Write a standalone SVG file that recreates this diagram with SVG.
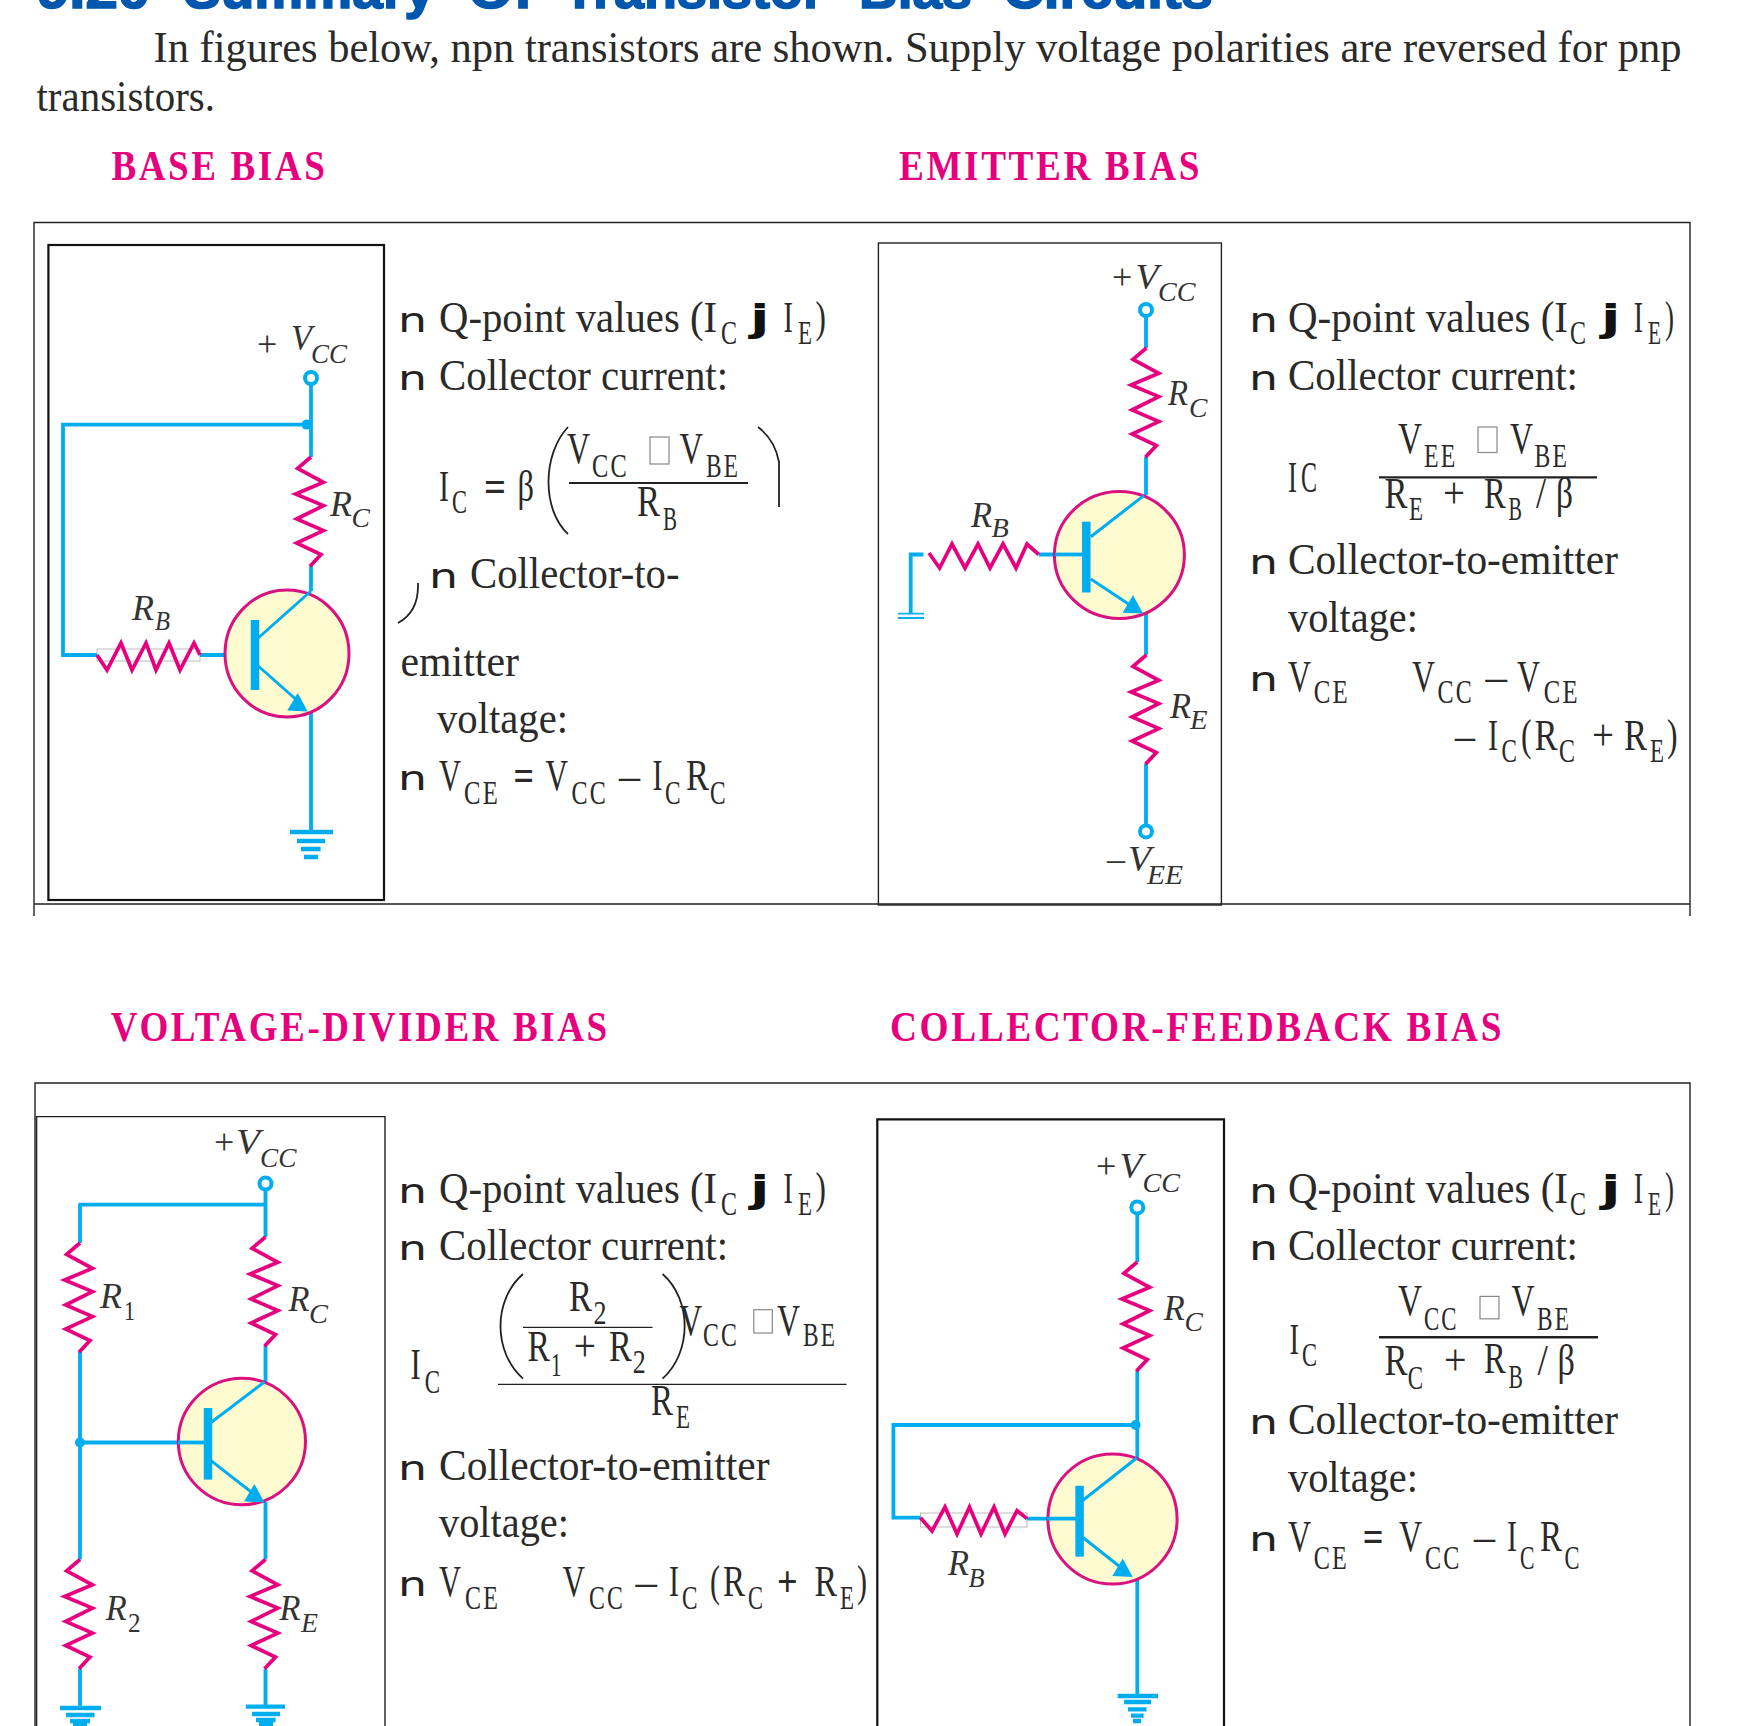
<svg xmlns="http://www.w3.org/2000/svg" width="1764" height="1726" viewBox="0 0 1764 1726">
<style>
text{font-family:"Liberation Serif",serif;fill:#2a2a2a}
.h{font-size:43px;font-weight:bold;fill:#e6007e;letter-spacing:3px}
.ti{font-family:"Liberation Sans",sans-serif;font-size:54px;font-weight:bold;fill:#0057ad;stroke:#0057ad;stroke-width:1.6}
.t{font-size:45px}
.eq{font-size:45px;font-weight:bold}
.s{font-size:33px}
.ss{font-size:33px;letter-spacing:3px}
.n{font-family:"DejaVu Sans",sans-serif;font-size:33px;fill:#222}
.j{font-family:"DejaVu Sans",sans-serif;font-size:38px;font-weight:bold;fill:#111}
.l{font-size:36px;font-style:italic;fill:#333}
.ls{font-size:28px;font-style:italic;fill:#333}
.ln{font-size:28px;fill:#333}
.w{fill:none;stroke:#00aeef;stroke-width:3.8}
.wi{fill:none;stroke:#00aeef;stroke-width:3}
.wb{fill:none;stroke:#00aeef;stroke-width:8.5}
.g{fill:none;stroke:#00aeef;stroke-width:4.4}
.r{fill:none;stroke:#e6007e;stroke-width:3.7}
.q{fill:#fefbd0;stroke:#d9127f;stroke-width:3}
.a{fill:#00aeef}
.v{fill:#fff;stroke:#00aeef;stroke-width:4}
.box{fill:none;stroke:#222;stroke-width:1.4}
.boxb{fill:none;stroke:#111;stroke-width:2.2}
.m{fill:none;stroke:#222;stroke-width:1.8}
.m2{fill:none;stroke:#222;stroke-width:2.4}
.u{fill:#fff;stroke:#888;stroke-width:1.2}
.f{fill:none;stroke:#bbb;stroke-width:1}
</style>
<defs>
<path id="rz" d="M0 0l-13.4 11.3 25.8 14-27.8 11.7 27.8 11.6-26.8 13.4 26.8 11.6-26.8 12.4 24.4 11.6-11 11.7"/>
</defs>

<g id="title">
<text class="ti" x="37" y="8" textLength="113" lengthAdjust="spacingAndGlyphs">9.20</text>
<text class="ti" x="184" y="8" textLength="251" lengthAdjust="spacingAndGlyphs">Summary</text>
<text class="ti" x="468" y="8" textLength="65" lengthAdjust="spacingAndGlyphs">Of</text>
<text class="ti" x="563" y="8" textLength="261" lengthAdjust="spacingAndGlyphs">Transistor</text>
<text class="ti" x="859" y="8" textLength="113" lengthAdjust="spacingAndGlyphs">Bias</text>
<text class="ti" x="1003" y="8" textLength="210" lengthAdjust="spacingAndGlyphs">Circuits</text>
<text class="t" x="153.5" y="62" textLength="1528" lengthAdjust="spacingAndGlyphs">In figures below, npn transistors are shown. Supply voltage polarities are reversed for pnp</text>
<text class="t" x="36.5" y="111" textLength="178.5" lengthAdjust="spacingAndGlyphs">transistors.</text>
</g>

<g id="frames">
<path class="box" d="M34 916V222.5H1690V916M34 904H1690"/>
<path class="box" d="M35 1726V1083H1690V1726"/>
</g>

<g id="base-bias">
<text class="h" x="111.4" y="180" textLength="216" lengthAdjust="spacingAndGlyphs">BASE BIAS</text>
<rect class="boxb" x="48.4" y="245" width="335.6" height="655"/>
<rect class="f" x="97" y="649" width="103" height="12"/>
<g class="connectors">
<path class="w" d="M311 384V457M311 424.6H63V655H97M200 655H255M311 566V591M311 712V832"/>
<use class="r" href="#rz" x="311" y="457"/>
<path class="r" d="M97 655L107 670 121 643 132 670 146 643 156 670 169 643 180 670 194 643 200 655"/>
</g>
<circle class="a" cx="306.6" cy="424.6" r="5"/>
<circle class="v" cx="311" cy="378" r="6"/>
<ellipse class="q" cx="287" cy="653.5" rx="62" ry="63.5"/>
<path class="wi" d="M256 640L311 591M256 664L300 703"/>
<path class="wb" d="M255 620V690"/>
<path class="a" d="M307.7 711.6L287.3 710.6 297.7 693Z"/>
<path class="g" d="M290 832H333M297 841H325M301 849H320.6M304 857H318"/>
<text class="l" x="257" y="356" style="font-style:normal">+</text>
<text class="l" x="291" y="350" textLength="21" lengthAdjust="spacingAndGlyphs">V</text>
<text class="ls" x="311" y="363" textLength="36" lengthAdjust="spacingAndGlyphs">CC</text>
<text class="l" x="330" y="516" textLength="22" lengthAdjust="spacingAndGlyphs">R</text>
<text class="ls" x="351.6" y="526.6" textLength="18.4" lengthAdjust="spacingAndGlyphs">C</text>
<text class="l" x="132" y="620" textLength="22" lengthAdjust="spacingAndGlyphs">R</text>
<text class="ls" x="155" y="630" textLength="15" lengthAdjust="spacingAndGlyphs">B</text>

<text class="n" x="398" y="332" textLength="29" lengthAdjust="spacingAndGlyphs">n</text>
<text class="t" x="439" y="332" textLength="278" lengthAdjust="spacingAndGlyphs">Q-point values (I</text>
<text class="s" x="721" y="344" textLength="16" lengthAdjust="spacingAndGlyphs">C</text>
<text class="j" x="750" y="331" textLength="19.5" lengthAdjust="spacingAndGlyphs">j</text>
<text class="t" x="783.6" y="332" textLength="9.4" lengthAdjust="spacingAndGlyphs">I</text>
<text class="s" x="798" y="344" textLength="14" lengthAdjust="spacingAndGlyphs">E</text>
<text class="t" x="815.6" y="332" textLength="10.4" lengthAdjust="spacingAndGlyphs">)</text>
<text class="n" x="398" y="390" textLength="29" lengthAdjust="spacingAndGlyphs">n</text>
<text class="t" x="439" y="390" textLength="289" lengthAdjust="spacingAndGlyphs">Collector current:</text>

<text class="t" x="439" y="501" textLength="10" lengthAdjust="spacingAndGlyphs">I</text>
<text class="s" x="452" y="513" textLength="15" lengthAdjust="spacingAndGlyphs">C</text>
<text class="eq" x="484" y="501" textLength="22" lengthAdjust="spacingAndGlyphs">=</text>
<text class="t" x="517.5" y="501" textLength="16.5" lengthAdjust="spacingAndGlyphs">β</text>
<path class="m" d="M568 427C542 455 542 510 568 534M758 427Q775 440 779 462V507M418 583Q419 612 398 623"/>
<text class="t" x="567" y="462.5" textLength="23" lengthAdjust="spacingAndGlyphs">V</text>
<text class="ss" x="592" y="477" textLength="37" lengthAdjust="spacingAndGlyphs">CC</text>
<rect class="u" x="650" y="437" width="19" height="27"/>
<text class="t" x="679.5" y="462.5" textLength="23.5" lengthAdjust="spacingAndGlyphs">V</text>
<text class="ss" x="706" y="477" textLength="34" lengthAdjust="spacingAndGlyphs">BE</text>
<path class="m" d="M569 483H748"/>
<text class="t" x="637" y="516" textLength="23" lengthAdjust="spacingAndGlyphs">R</text>
<text class="s" x="663" y="529.5" textLength="14" lengthAdjust="spacingAndGlyphs">B</text>

<text class="n" x="429" y="588" textLength="29" lengthAdjust="spacingAndGlyphs">n</text>
<text class="t" x="470" y="588" textLength="209.5" lengthAdjust="spacingAndGlyphs">Collector-to-</text>
<text class="t" x="400.5" y="676" textLength="118.5" lengthAdjust="spacingAndGlyphs">emitter</text>
<text class="t" x="437" y="733" textLength="131" lengthAdjust="spacingAndGlyphs">voltage:</text>

<text class="n" x="398" y="790" textLength="29" lengthAdjust="spacingAndGlyphs">n</text>
<text class="t" x="439" y="790" textLength="22" lengthAdjust="spacingAndGlyphs">V</text>
<text class="ss" x="464" y="803.5" textLength="36" lengthAdjust="spacingAndGlyphs">CE</text>
<text class="eq" x="513.5" y="790" textLength="20.5" lengthAdjust="spacingAndGlyphs">=</text>
<text class="t" x="545.6" y="790" textLength="22.4" lengthAdjust="spacingAndGlyphs">V</text>
<text class="ss" x="571.5" y="803.5" textLength="36.5" lengthAdjust="spacingAndGlyphs">CC</text>
<text class="t" x="619" y="790" textLength="21" lengthAdjust="spacingAndGlyphs">–</text>
<text class="t" x="652.5" y="790" textLength="10" lengthAdjust="spacingAndGlyphs">I</text>
<text class="s" x="665" y="803.5" textLength="15.6" lengthAdjust="spacingAndGlyphs">C</text>
<text class="t" x="686" y="790" textLength="23" lengthAdjust="spacingAndGlyphs">R</text>
<text class="s" x="710" y="803.5" textLength="15.6" lengthAdjust="spacingAndGlyphs">C</text>
</g>

<g id="emitter-bias">
<text class="h" x="899" y="180" textLength="303" lengthAdjust="spacingAndGlyphs">EMITTER BIAS</text>
<rect class="box" x="878.4" y="243" width="343" height="662"/>
<g class="connectors">
<path class="w" d="M1146 316V348M1146 457V495M1146 614V655M1146 764V825M1038.7 554.5H1086M923.4 554.5H910.7V614"/>
<path class="wi" d="M898 613.7H924M898 618H924" style="stroke-width:1.8"/>
<use class="r" href="#rz" x="1146.4" y="348"/>
<use class="r" href="#rz" x="1146.4" y="655"/>
<path class="r" d="M929 553L939.6 568 952 544 965 568 978 544 990 568 1003 544 1016 568 1027 544 1038.7 554.5"/>
</g>
<circle class="v" cx="1146" cy="310" r="6"/>
<circle class="v" cx="1146" cy="831.4" r="6"/>
<ellipse class="q" cx="1119.4" cy="555" rx="65" ry="63.5"/>
<path class="wi" d="M1090.8 536.7L1143.8 495.6M1090.8 579L1133 607"/>
<path class="w" d="M1055 554.5H1086"/>
<path class="wb" d="M1086.3 521.7V592.5"/>
<path class="a" d="M1143 613.5L1122.6 612.7 1133 595Z"/>
<text class="l" x="1112" y="289" style="font-style:normal">+</text>
<text class="l" x="1135.6" y="289" textLength="23" lengthAdjust="spacingAndGlyphs">V</text>
<text class="ls" x="1158" y="300.6" textLength="37.5" lengthAdjust="spacingAndGlyphs">CC</text>
<text class="l" x="1168" y="405" textLength="20" lengthAdjust="spacingAndGlyphs">R</text>
<text class="ls" x="1189" y="417" textLength="18.4" lengthAdjust="spacingAndGlyphs">C</text>
<text class="l" x="1170" y="717.5" textLength="21" lengthAdjust="spacingAndGlyphs">R</text>
<text class="ls" x="1190" y="729" textLength="17.6" lengthAdjust="spacingAndGlyphs">E</text>
<text class="l" x="971" y="526.6" textLength="21" lengthAdjust="spacingAndGlyphs">R</text>
<text class="ls" x="991.4" y="536.7" textLength="17.3" lengthAdjust="spacingAndGlyphs">B</text>
<text class="l" x="1107" y="870.5" textLength="18" lengthAdjust="spacingAndGlyphs" style="font-style:normal">–</text>
<text class="l" x="1128" y="870.5" textLength="23" lengthAdjust="spacingAndGlyphs">V</text>
<text class="ls" x="1147" y="883.5" textLength="36" lengthAdjust="spacingAndGlyphs">EE</text>

<text class="n" x="1249" y="332" textLength="29" lengthAdjust="spacingAndGlyphs">n</text>
<text class="t" x="1288" y="332" textLength="280" lengthAdjust="spacingAndGlyphs">Q-point values (I</text>
<text class="s" x="1570" y="344" textLength="16" lengthAdjust="spacingAndGlyphs">C</text>
<text class="j" x="1601" y="331" textLength="19.5" lengthAdjust="spacingAndGlyphs">j</text>
<text class="t" x="1633.7" y="332" textLength="9.3" lengthAdjust="spacingAndGlyphs">I</text>
<text class="s" x="1648" y="344" textLength="13" lengthAdjust="spacingAndGlyphs">E</text>
<text class="t" x="1665" y="332" textLength="9" lengthAdjust="spacingAndGlyphs">)</text>
<text class="n" x="1249" y="390" textLength="29" lengthAdjust="spacingAndGlyphs">n</text>
<text class="t" x="1288" y="390" textLength="290" lengthAdjust="spacingAndGlyphs">Collector current:</text>

<text class="t" x="1288" y="492" textLength="9" lengthAdjust="spacingAndGlyphs">I</text>
<text class="t" x="1301" y="492" textLength="16" lengthAdjust="spacingAndGlyphs">C</text>
<text class="t" x="1398" y="452.5" textLength="24" lengthAdjust="spacingAndGlyphs">V</text>
<text class="ss" x="1424" y="466.7" textLength="33.5" lengthAdjust="spacingAndGlyphs">EE</text>
<rect class="u" x="1478" y="427" width="19" height="25.5"/>
<text class="t" x="1510" y="452.5" textLength="23" lengthAdjust="spacingAndGlyphs">V</text>
<text class="ss" x="1534.5" y="466.7" textLength="34.5" lengthAdjust="spacingAndGlyphs">BE</text>
<path class="m2" d="M1379 477.4H1597"/>
<text class="t" x="1384.6" y="508" textLength="23" lengthAdjust="spacingAndGlyphs">R</text>
<text class="s" x="1409" y="520" textLength="14" lengthAdjust="spacingAndGlyphs">E</text>
<text class="t" x="1443" y="508" textLength="22" lengthAdjust="spacingAndGlyphs">+</text>
<text class="t" x="1484" y="508" textLength="21.7" lengthAdjust="spacingAndGlyphs">R</text>
<text class="s" x="1508.6" y="520" textLength="13.4" lengthAdjust="spacingAndGlyphs">B</text>
<text class="t" x="1536" y="508" textLength="10" lengthAdjust="spacingAndGlyphs">/</text>
<text class="t" x="1556" y="508" textLength="17" lengthAdjust="spacingAndGlyphs">β</text>

<text class="n" x="1249" y="574" textLength="29" lengthAdjust="spacingAndGlyphs">n</text>
<text class="t" x="1288" y="574" textLength="330" lengthAdjust="spacingAndGlyphs">Collector-to-emitter</text>
<text class="t" x="1288" y="632" textLength="130" lengthAdjust="spacingAndGlyphs">voltage:</text>
<text class="n" x="1249" y="691" textLength="29" lengthAdjust="spacingAndGlyphs">n</text>
<text class="t" x="1288" y="691" textLength="23" lengthAdjust="spacingAndGlyphs">V</text>
<text class="ss" x="1313.7" y="703" textLength="36.3" lengthAdjust="spacingAndGlyphs">CE</text>
<text class="t" x="1412" y="691" textLength="23" lengthAdjust="spacingAndGlyphs">V</text>
<text class="ss" x="1437.6" y="703" textLength="36.4" lengthAdjust="spacingAndGlyphs">CC</text>
<text class="t" x="1485.5" y="691" textLength="21.5" lengthAdjust="spacingAndGlyphs">–</text>
<text class="t" x="1517" y="691" textLength="23" lengthAdjust="spacingAndGlyphs">V</text>
<text class="ss" x="1543.7" y="703" textLength="36" lengthAdjust="spacingAndGlyphs">CE</text>
<text class="t" x="1455" y="750" textLength="20" lengthAdjust="spacingAndGlyphs">–</text>
<text class="t" x="1488" y="750" textLength="10" lengthAdjust="spacingAndGlyphs">I</text>
<text class="s" x="1501.6" y="762" textLength="15.4" lengthAdjust="spacingAndGlyphs">C</text>
<text class="t" x="1521" y="750" textLength="10.6" lengthAdjust="spacingAndGlyphs">(</text>
<text class="t" x="1534.5" y="750" textLength="23" lengthAdjust="spacingAndGlyphs">R</text>
<text class="s" x="1559" y="762" textLength="16" lengthAdjust="spacingAndGlyphs">C</text>
<text class="t" x="1592" y="750" textLength="22" lengthAdjust="spacingAndGlyphs">+</text>
<text class="t" x="1624" y="750" textLength="23" lengthAdjust="spacingAndGlyphs">R</text>
<text class="s" x="1650" y="762" textLength="14" lengthAdjust="spacingAndGlyphs">E</text>
<text class="t" x="1667" y="750" textLength="10.5" lengthAdjust="spacingAndGlyphs">)</text>
</g>

<g id="voltage-divider-bias">
<text class="h" x="110.8" y="1041" textLength="499" lengthAdjust="spacingAndGlyphs">VOLTAGE-DIVIDER BIAS</text>
<path class="box" d="M36.6 1726V1116.6H385V1726"/>
<g class="connectors">
<path class="w" d="M265.5 1189V1237M78.5 1204.6H265.5M80 1204.6V1243M80 1352V1559.5M80 1442.5H208M265.5 1346V1382M265.5 1502V1559.5M80 1669V1708M265.5 1669V1706"/>
<use class="r" href="#rz" x="80" y="1243"/>
<use class="r" href="#rz" x="80" y="1559.5"/>
<use class="r" href="#rz" x="265.5" y="1237"/>
<use class="r" href="#rz" x="265.5" y="1559.5"/>
</g>
<circle class="a" cx="80" cy="1442.5" r="5"/>
<circle class="v" cx="265.5" cy="1183.6" r="6"/>
<ellipse class="q" cx="241.9" cy="1441.5" rx="63.6" ry="63.3"/>
<path class="wi" d="M211 1422.5L264.4 1382M211 1460.6L255 1495"/>
<path class="w" d="M178 1442.5H208"/>
<path class="wb" d="M208 1408V1479.6"/>
<path class="a" d="M264.4 1502.4L244 1501.4 254.4 1484Z"/>
<path class="g" d="M60 1708H101M66 1715H94.5M70 1721H90M73 1725H87M245.8 1706.6H285M252 1714H280M256 1720H275.6M259 1724H273"/>
<text class="l" x="214" y="1153.7" style="font-style:normal">+</text>
<text class="l" x="236" y="1153.7" textLength="24" lengthAdjust="spacingAndGlyphs">V</text>
<text class="ls" x="260" y="1166.5" textLength="36.4" lengthAdjust="spacingAndGlyphs">CC</text>
<text class="l" x="100" y="1308" textLength="22" lengthAdjust="spacingAndGlyphs">R</text>
<text class="ln" x="124" y="1320" textLength="11" lengthAdjust="spacingAndGlyphs">1</text>
<text class="l" x="288.6" y="1310.7" textLength="21" lengthAdjust="spacingAndGlyphs">R</text>
<text class="ls" x="309" y="1322.6" textLength="19" lengthAdjust="spacingAndGlyphs">C</text>
<text class="l" x="105.8" y="1620" textLength="21" lengthAdjust="spacingAndGlyphs">R</text>
<text class="ln" x="128" y="1632" textLength="12.6" lengthAdjust="spacingAndGlyphs">2</text>
<text class="l" x="279.6" y="1620" textLength="21" lengthAdjust="spacingAndGlyphs">R</text>
<text class="ls" x="301" y="1632" textLength="17" lengthAdjust="spacingAndGlyphs">E</text>

<text class="n" x="398" y="1203" textLength="29" lengthAdjust="spacingAndGlyphs">n</text>
<text class="t" x="439" y="1203" textLength="278" lengthAdjust="spacingAndGlyphs">Q-point values (I</text>
<text class="s" x="721" y="1215" textLength="16" lengthAdjust="spacingAndGlyphs">C</text>
<text class="j" x="750" y="1202" textLength="19.5" lengthAdjust="spacingAndGlyphs">j</text>
<text class="t" x="783.6" y="1203" textLength="9.4" lengthAdjust="spacingAndGlyphs">I</text>
<text class="s" x="798" y="1215" textLength="14" lengthAdjust="spacingAndGlyphs">E</text>
<text class="t" x="815.6" y="1203" textLength="10.4" lengthAdjust="spacingAndGlyphs">)</text>
<text class="n" x="398" y="1260" textLength="29" lengthAdjust="spacingAndGlyphs">n</text>
<text class="t" x="439" y="1260" textLength="289" lengthAdjust="spacingAndGlyphs">Collector current:</text>

<text class="t" x="410.6" y="1378.7" textLength="10.2" lengthAdjust="spacingAndGlyphs">I</text>
<text class="s" x="424.7" y="1393" textLength="15.3" lengthAdjust="spacingAndGlyphs">C</text>
<path class="m" d="M523 1274C493 1300 493 1352 523 1378.7M662.6 1274C692 1300 692 1352 662.6 1378.7"/>
<text class="t" x="569" y="1310.7" textLength="23" lengthAdjust="spacingAndGlyphs">R</text>
<text class="s" x="593.4" y="1323.5" textLength="13" lengthAdjust="spacingAndGlyphs">2</text>
<path class="m" d="M523 1327.3H652.5" style="stroke-width:1.2"/>
<text class="t" x="527.6" y="1360.6" textLength="22.4" lengthAdjust="spacingAndGlyphs">R</text>
<text class="s" x="551" y="1376" textLength="10.4" lengthAdjust="spacingAndGlyphs">1</text>
<text class="t" x="573.8" y="1360.6" textLength="22.2" lengthAdjust="spacingAndGlyphs">+</text>
<text class="t" x="609" y="1360.6" textLength="22.7" lengthAdjust="spacingAndGlyphs">R</text>
<text class="s" x="632.8" y="1372.5" textLength="13" lengthAdjust="spacingAndGlyphs">2</text>
<text class="t" x="679.5" y="1334.5" textLength="22.5" lengthAdjust="spacingAndGlyphs">V</text>
<text class="ss" x="703" y="1346.4" textLength="36" lengthAdjust="spacingAndGlyphs">CC</text>
<rect class="u" x="753.8" y="1309.7" width="18.5" height="23.3"/>
<text class="t" x="777" y="1334.5" textLength="23" lengthAdjust="spacingAndGlyphs">V</text>
<text class="ss" x="803" y="1346.4" textLength="34" lengthAdjust="spacingAndGlyphs">BE</text>
<path class="m" d="M498 1384.4H846.6" style="stroke-width:1.2"/>
<text class="t" x="651" y="1415" textLength="22" lengthAdjust="spacingAndGlyphs">R</text>
<text class="s" x="676" y="1428" textLength="14" lengthAdjust="spacingAndGlyphs">E</text>

<text class="n" x="398" y="1479.6" textLength="29" lengthAdjust="spacingAndGlyphs">n</text>
<text class="t" x="439" y="1479.6" textLength="330.5" lengthAdjust="spacingAndGlyphs">Collector-to-emitter</text>
<text class="t" x="439" y="1537" textLength="130" lengthAdjust="spacingAndGlyphs">voltage:</text>
<text class="n" x="398" y="1596" textLength="29" lengthAdjust="spacingAndGlyphs">n</text>
<text class="t" x="439" y="1596" textLength="22" lengthAdjust="spacingAndGlyphs">V</text>
<text class="ss" x="465" y="1609" textLength="35" lengthAdjust="spacingAndGlyphs">CE</text>
<text class="t" x="562.5" y="1596" textLength="22.5" lengthAdjust="spacingAndGlyphs">V</text>
<text class="ss" x="589" y="1609" textLength="36" lengthAdjust="spacingAndGlyphs">CC</text>
<text class="t" x="635.6" y="1596" textLength="21.4" lengthAdjust="spacingAndGlyphs">–</text>
<text class="t" x="669" y="1596" textLength="10" lengthAdjust="spacingAndGlyphs">I</text>
<text class="s" x="682" y="1609" textLength="15.5" lengthAdjust="spacingAndGlyphs">C</text>
<text class="t" x="710" y="1596" textLength="10" lengthAdjust="spacingAndGlyphs">(</text>
<text class="t" x="723" y="1596" textLength="22" lengthAdjust="spacingAndGlyphs">R</text>
<text class="s" x="748" y="1609" textLength="15" lengthAdjust="spacingAndGlyphs">C</text>
<text class="eq" x="777" y="1596" textLength="20.6" lengthAdjust="spacingAndGlyphs">+</text>
<text class="t" x="814.5" y="1596" textLength="22.5" lengthAdjust="spacingAndGlyphs">R</text>
<text class="s" x="840" y="1609" textLength="14" lengthAdjust="spacingAndGlyphs">E</text>
<text class="t" x="857" y="1596" textLength="10" lengthAdjust="spacingAndGlyphs">)</text>
</g>

<g id="collector-feedback-bias">
<text class="h" x="890" y="1041" textLength="614" lengthAdjust="spacingAndGlyphs">COLLECTOR-FEEDBACK BIAS</text>
<path class="boxb" d="M877.3 1726V1119.4H1224V1726"/>
<rect class="f" x="920.5" y="1513" width="106.5" height="14"/>
<g class="connectors">
<path class="w" d="M1137.3 1213V1262M1137.3 1371V1458M1135 1425H893.4V1517.7H920.5M1027 1518.6H1079M1137.3 1578V1695"/>
<use class="r" href="#rz" x="1137.3" y="1262"/>
<path class="r" d="M920.5 1517.7L932 1531 945 1507 957 1534 969.5 1507 981 1534 994 1507 1005 1534 1017 1510.6 1027 1518.6"/>
</g>
<circle class="a" cx="1135.6" cy="1425" r="5"/>
<circle class="v" cx="1137.3" cy="1207.4" r="6"/>
<ellipse class="q" cx="1112.5" cy="1519" rx="64.6" ry="65"/>
<path class="wi" d="M1082 1501L1136.7 1458M1082 1536.7L1124 1570"/>
<path class="w" d="M1047 1518.6H1079"/>
<path class="wb" d="M1079.6 1485.8V1556.7"/>
<path class="a" d="M1132.7 1577L1112.3 1576 1122.7 1558.5Z"/>
<path class="g" d="M1117.7 1696H1158M1124 1702H1151M1128 1709.4H1146.5M1131 1715.6H1143.6M1133 1721H1141"/>
<text class="l" x="1096" y="1177.5" style="font-style:normal">+</text>
<text class="l" x="1119.4" y="1177.5" textLength="23" lengthAdjust="spacingAndGlyphs">V</text>
<text class="ls" x="1142.5" y="1191.7" textLength="37.5" lengthAdjust="spacingAndGlyphs">CC</text>
<text class="l" x="1163.8" y="1320" textLength="21" lengthAdjust="spacingAndGlyphs">R</text>
<text class="ls" x="1184.6" y="1331" textLength="18.4" lengthAdjust="spacingAndGlyphs">C</text>
<text class="l" x="948" y="1574.8" textLength="21" lengthAdjust="spacingAndGlyphs">R</text>
<text class="ls" x="968.4" y="1586.6" textLength="16" lengthAdjust="spacingAndGlyphs">B</text>

<text class="n" x="1249" y="1203" textLength="29" lengthAdjust="spacingAndGlyphs">n</text>
<text class="t" x="1288" y="1203" textLength="280" lengthAdjust="spacingAndGlyphs">Q-point values (I</text>
<text class="s" x="1570" y="1215" textLength="16" lengthAdjust="spacingAndGlyphs">C</text>
<text class="j" x="1601" y="1202" textLength="19.5" lengthAdjust="spacingAndGlyphs">j</text>
<text class="t" x="1633.7" y="1203" textLength="9.3" lengthAdjust="spacingAndGlyphs">I</text>
<text class="s" x="1648" y="1215" textLength="13" lengthAdjust="spacingAndGlyphs">E</text>
<text class="t" x="1665" y="1203" textLength="9" lengthAdjust="spacingAndGlyphs">)</text>
<text class="n" x="1249" y="1260" textLength="29" lengthAdjust="spacingAndGlyphs">n</text>
<text class="t" x="1288" y="1260" textLength="290" lengthAdjust="spacingAndGlyphs">Collector current:</text>

<text class="t" x="1289.5" y="1353.5" textLength="9.5" lengthAdjust="spacingAndGlyphs">I</text>
<text class="s" x="1302" y="1366" textLength="15" lengthAdjust="spacingAndGlyphs">C</text>
<text class="t" x="1398" y="1315.4" textLength="24" lengthAdjust="spacingAndGlyphs">V</text>
<text class="ss" x="1424" y="1329.7" textLength="34.7" lengthAdjust="spacingAndGlyphs">CC</text>
<rect class="u" x="1480" y="1296.4" width="19" height="22.4"/>
<text class="t" x="1511.5" y="1315.4" textLength="23" lengthAdjust="spacingAndGlyphs">V</text>
<text class="ss" x="1537" y="1329.7" textLength="34" lengthAdjust="spacingAndGlyphs">BE</text>
<path class="m2" d="M1379 1337.3H1598"/>
<text class="t" x="1384.6" y="1375" textLength="23" lengthAdjust="spacingAndGlyphs">R</text>
<text class="s" x="1407.7" y="1389" textLength="15.3" lengthAdjust="spacingAndGlyphs">C</text>
<text class="t" x="1444" y="1375" textLength="22.5" lengthAdjust="spacingAndGlyphs">+</text>
<text class="t" x="1484" y="1372.5" textLength="21.7" lengthAdjust="spacingAndGlyphs">R</text>
<text class="s" x="1508.6" y="1388" textLength="14.4" lengthAdjust="spacingAndGlyphs">B</text>
<text class="t" x="1537.4" y="1375" textLength="10.4" lengthAdjust="spacingAndGlyphs">/</text>
<text class="t" x="1557.6" y="1375" textLength="17.4" lengthAdjust="spacingAndGlyphs">β</text>

<text class="n" x="1249" y="1434.4" textLength="29" lengthAdjust="spacingAndGlyphs">n</text>
<text class="t" x="1288" y="1434.4" textLength="330" lengthAdjust="spacingAndGlyphs">Collector-to-emitter</text>
<text class="t" x="1288" y="1492" textLength="130" lengthAdjust="spacingAndGlyphs">voltage:</text>
<text class="n" x="1249" y="1551" textLength="29" lengthAdjust="spacingAndGlyphs">n</text>
<text class="t" x="1288" y="1551" textLength="23" lengthAdjust="spacingAndGlyphs">V</text>
<text class="ss" x="1313.7" y="1569" textLength="35.3" lengthAdjust="spacingAndGlyphs">CE</text>
<text class="eq" x="1362.7" y="1551" textLength="20.8" lengthAdjust="spacingAndGlyphs">=</text>
<text class="t" x="1399" y="1551" textLength="23" lengthAdjust="spacingAndGlyphs">V</text>
<text class="ss" x="1425" y="1569" textLength="36.6" lengthAdjust="spacingAndGlyphs">CC</text>
<text class="t" x="1474" y="1551" textLength="21" lengthAdjust="spacingAndGlyphs">–</text>
<text class="t" x="1507" y="1551" textLength="10" lengthAdjust="spacingAndGlyphs">I</text>
<text class="s" x="1520" y="1569" textLength="14.5" lengthAdjust="spacingAndGlyphs">C</text>
<text class="t" x="1540" y="1551" textLength="22" lengthAdjust="spacingAndGlyphs">R</text>
<text class="s" x="1564.5" y="1569" textLength="15" lengthAdjust="spacingAndGlyphs">C</text>
</g>
</svg>
